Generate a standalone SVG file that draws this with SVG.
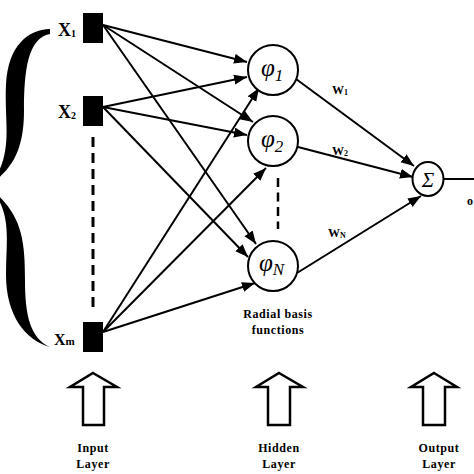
<svg xmlns="http://www.w3.org/2000/svg" width="474" height="474" viewBox="0 0 474 474">
<style>
.lbl{font-family:"Liberation Serif","Times New Roman",serif;font-weight:bold;fill:#000}
.greek{font-family:"Liberation Serif","Times New Roman",serif;font-style:italic;fill:#000}
.edge{stroke:#000;stroke-width:2;fill:none}
.node{fill:#fff;stroke:#000;stroke-width:2}
.big{fill:#fff;stroke:#000;stroke-width:2.5}
</style>
<defs>
<marker id="ah" markerUnits="userSpaceOnUse" markerWidth="14" markerHeight="11" refX="13" refY="5" orient="auto">
<path d="M0,0 L13,5 L0,10 z" fill="#000"/>
</marker>
</defs>
<rect width="474" height="474" fill="#fff"/>

<g id="brace">
<path d="M50,29 C28,30 8,45 6,85 C4,122 14,152 -8,183 C18,165 24,140 24,110 C24,70 28,38 50,34 Z" fill="#000"/>
<path d="M-8,190 C12,215 6,240 6,275 C6,315 25,340 50,347 C30,338 25,315 25,280 C25,240 22,215 -8,190 Z" fill="#000"/>
</g>

<g id="connectors">
<line class="edge" x1="103" y1="25" x2="247" y2="62" marker-end="url(#ah)"/>
<line class="edge" x1="103" y1="25" x2="253" y2="122" marker-end="url(#ah)"/>
<line class="edge" x1="103" y1="25" x2="256" y2="244" marker-end="url(#ah)"/>
<line class="edge" x1="103" y1="107" x2="247" y2="77" marker-end="url(#ah)"/>
<line class="edge" x1="103" y1="107" x2="247" y2="135" marker-end="url(#ah)"/>
<line class="edge" x1="103" y1="107" x2="248" y2="257" marker-end="url(#ah)"/>
<line class="edge" x1="103" y1="332" x2="259" y2="88" marker-end="url(#ah)"/>
<line class="edge" x1="103" y1="332" x2="266" y2="168" marker-end="url(#ah)"/>
<line class="edge" x1="103" y1="332" x2="255" y2="283" marker-end="url(#ah)"/>
<line class="edge" x1="296" y1="79" x2="414" y2="166" marker-end="url(#ah)"/>
<line class="edge" x1="298" y1="147" x2="413" y2="177" marker-end="url(#ah)"/>
<line class="edge" x1="297" y1="273" x2="421" y2="196" marker-end="url(#ah)"/>
<line class="edge" x1="444" y1="179" x2="474" y2="179"/>
<line x1="93" y1="137" x2="93" y2="309" stroke="#000" stroke-width="3" stroke-dasharray="10,6"/>
<line x1="278" y1="178" x2="278" y2="229" stroke="#000" stroke-width="2.5" stroke-dasharray="9,5.5"/>
</g>

<g id="x1">
<rect x="83" y="13" width="20" height="30" fill="#000"/>
<text class="lbl" x="58" y="36" font-size="18">X<tspan font-size="10" dy="1">1</tspan></text>
</g>
<g id="x2">
<rect x="83" y="96" width="20" height="30" fill="#000"/>
<text class="lbl" x="58" y="118" font-size="18">X<tspan font-size="10" dy="1">2</tspan></text>
</g>
<g id="xm">
<rect x="83" y="322" width="20" height="30" fill="#000"/>
<text class="lbl" x="54" y="345" font-size="16">X<tspan font-size="11" dy="0">m</tspan></text>
</g>

<g id="phi1">
<circle class="node" cx="273" cy="70" r="25"/>
<text class="greek" x="261" y="76" font-size="25">φ<tspan font-size="17" dy="5">1</tspan></text>
</g>
<g id="phi2">
<circle class="node" cx="273" cy="141" r="25"/>
<text class="greek" x="261" y="147" font-size="25">φ<tspan font-size="17" dy="5">2</tspan></text>
</g>
<g id="phiN">
<circle class="node" cx="273" cy="266" r="25"/>
<text class="greek" x="259" y="271" font-size="25">φ<tspan font-size="17" dy="4">N</tspan></text>
</g>
<g id="sum">
<ellipse class="node" cx="428" cy="179" rx="15.5" ry="17"/>
<text class="greek" x="428" y="187" font-size="21" text-anchor="middle">Σ</text>
</g>

<g id="weights">
<text class="lbl" x="332" y="94" font-size="12">W<tspan font-size="8" dy="1">1</tspan></text>
<text class="lbl" x="332" y="155" font-size="12">W<tspan font-size="8" dy="1">2</tspan></text>
<text class="lbl" x="328" y="237" font-size="12">W<tspan font-size="8" dy="1">N</tspan></text>
</g>

<text class="lbl" x="278" y="318" font-size="12" text-anchor="middle" letter-spacing="0.6">Radial basis</text>
<text class="lbl" x="278" y="334" font-size="12" text-anchor="middle" letter-spacing="0.6">functions</text>
<text class="lbl" x="467" y="205" font-size="12">o</text>

<g id="input-layer">
<polygon class="big" points="93,373 117,387 104,387 104,425 83,425 83,387 70,387"/>
<text class="lbl" x="93" y="452" font-size="12" text-anchor="middle" letter-spacing="0.6">Input</text>
<text class="lbl" x="93" y="468" font-size="12" text-anchor="middle" letter-spacing="0.6">Layer</text>
</g>
<g id="hidden-layer">
<polygon class="big" points="279,373 303,387 290,387 290,425 268,425 268,387 256,387"/>
<text class="lbl" x="279" y="452" font-size="12" text-anchor="middle" letter-spacing="0.6">Hidden</text>
<text class="lbl" x="279" y="468" font-size="12" text-anchor="middle" letter-spacing="0.6">Layer</text>
</g>
<g id="output-layer">
<polygon class="big" points="434,373 457,387 445,387 445,425 423,425 423,387 411,387"/>
<text class="lbl" x="439" y="452" font-size="12" text-anchor="middle" letter-spacing="0.6">Output</text>
<text class="lbl" x="439" y="468" font-size="12" text-anchor="middle" letter-spacing="0.6">Layer</text>
</g>
</svg>
